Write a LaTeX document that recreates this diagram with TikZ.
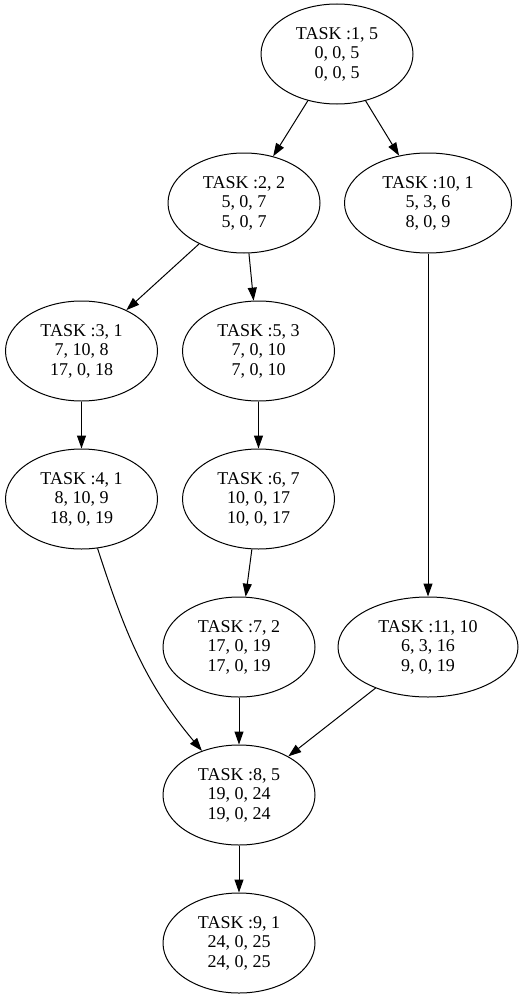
\documentclass[tikz,border=0pt]{standalone}
\usepackage{fontspec}
\setmainfont{Liberation Serif}
\usetikzlibrary{shapes.geometric,arrows.meta}
\tikzset{
  task/.style={draw, ellipse, line width=1pt, inner sep=0pt,
    minimum width=152pt, minimum height=100pt, align=center,
    font=\fontsize{18}{19.5}\selectfont},
}
\begin{document}
\begin{tikzpicture}[x=1pt,y=-1pt]
      \useasboundingbox (0,0) rectangle (523,998);
      \draw
        (337,54) node[task] (1){TASK :1, 5\\0, 0, 5\\0, 0, 5}
        (244,203) node[task] (2){TASK :2, 2\\5, 0, 7\\5, 0, 7}
        (428,203) node[task, minimum width=167pt] (10){TASK :10, 1\\5, 3, 6\\8, 0, 9}
        (81.5,351) node[task] (3){TASK :3, 1\\7, 10, 8\\17, 0, 18}
        (258.5,351) node[task] (5){TASK :5, 3\\7, 0, 10\\7, 0, 10}
        (81.5,499) node[task] (4){TASK :4, 1\\8, 10, 9\\18, 0, 19}
        (258.5,499) node[task] (6){TASK :6, 7\\10, 0, 17\\10, 0, 17}
        (239,647) node[task] (7){TASK :7, 2\\17, 0, 19\\17, 0, 19}
        (428,647) node[task, minimum width=180pt] (11){TASK :11, 10\\6, 3, 16\\9, 0, 19}
        (239,795) node[task] (8){TASK :8, 5\\19, 0, 24\\19, 0, 24}
        (239,943) node[task] (9){TASK :9, 1\\24, 0, 25\\24, 0, 25};
      \begin{scope}[-{Triangle[length=13pt,width=9pt]}, line width=1pt]
        \draw (1) to (2);
        \draw (1) to (10);
        \draw (2) to (3);
        \draw (2) to (5);
        \draw (3) to (4);
        \draw (5) to (6);
        \draw (6) to (7);
        \draw (4) to[out=-72, in=130] (8);
        \draw (7) to (8);
        \draw (10) to (11);
        \draw (11) to (8);
        \draw (8) to (9);
      \end{scope}
    \end{tikzpicture}
\end{document}
